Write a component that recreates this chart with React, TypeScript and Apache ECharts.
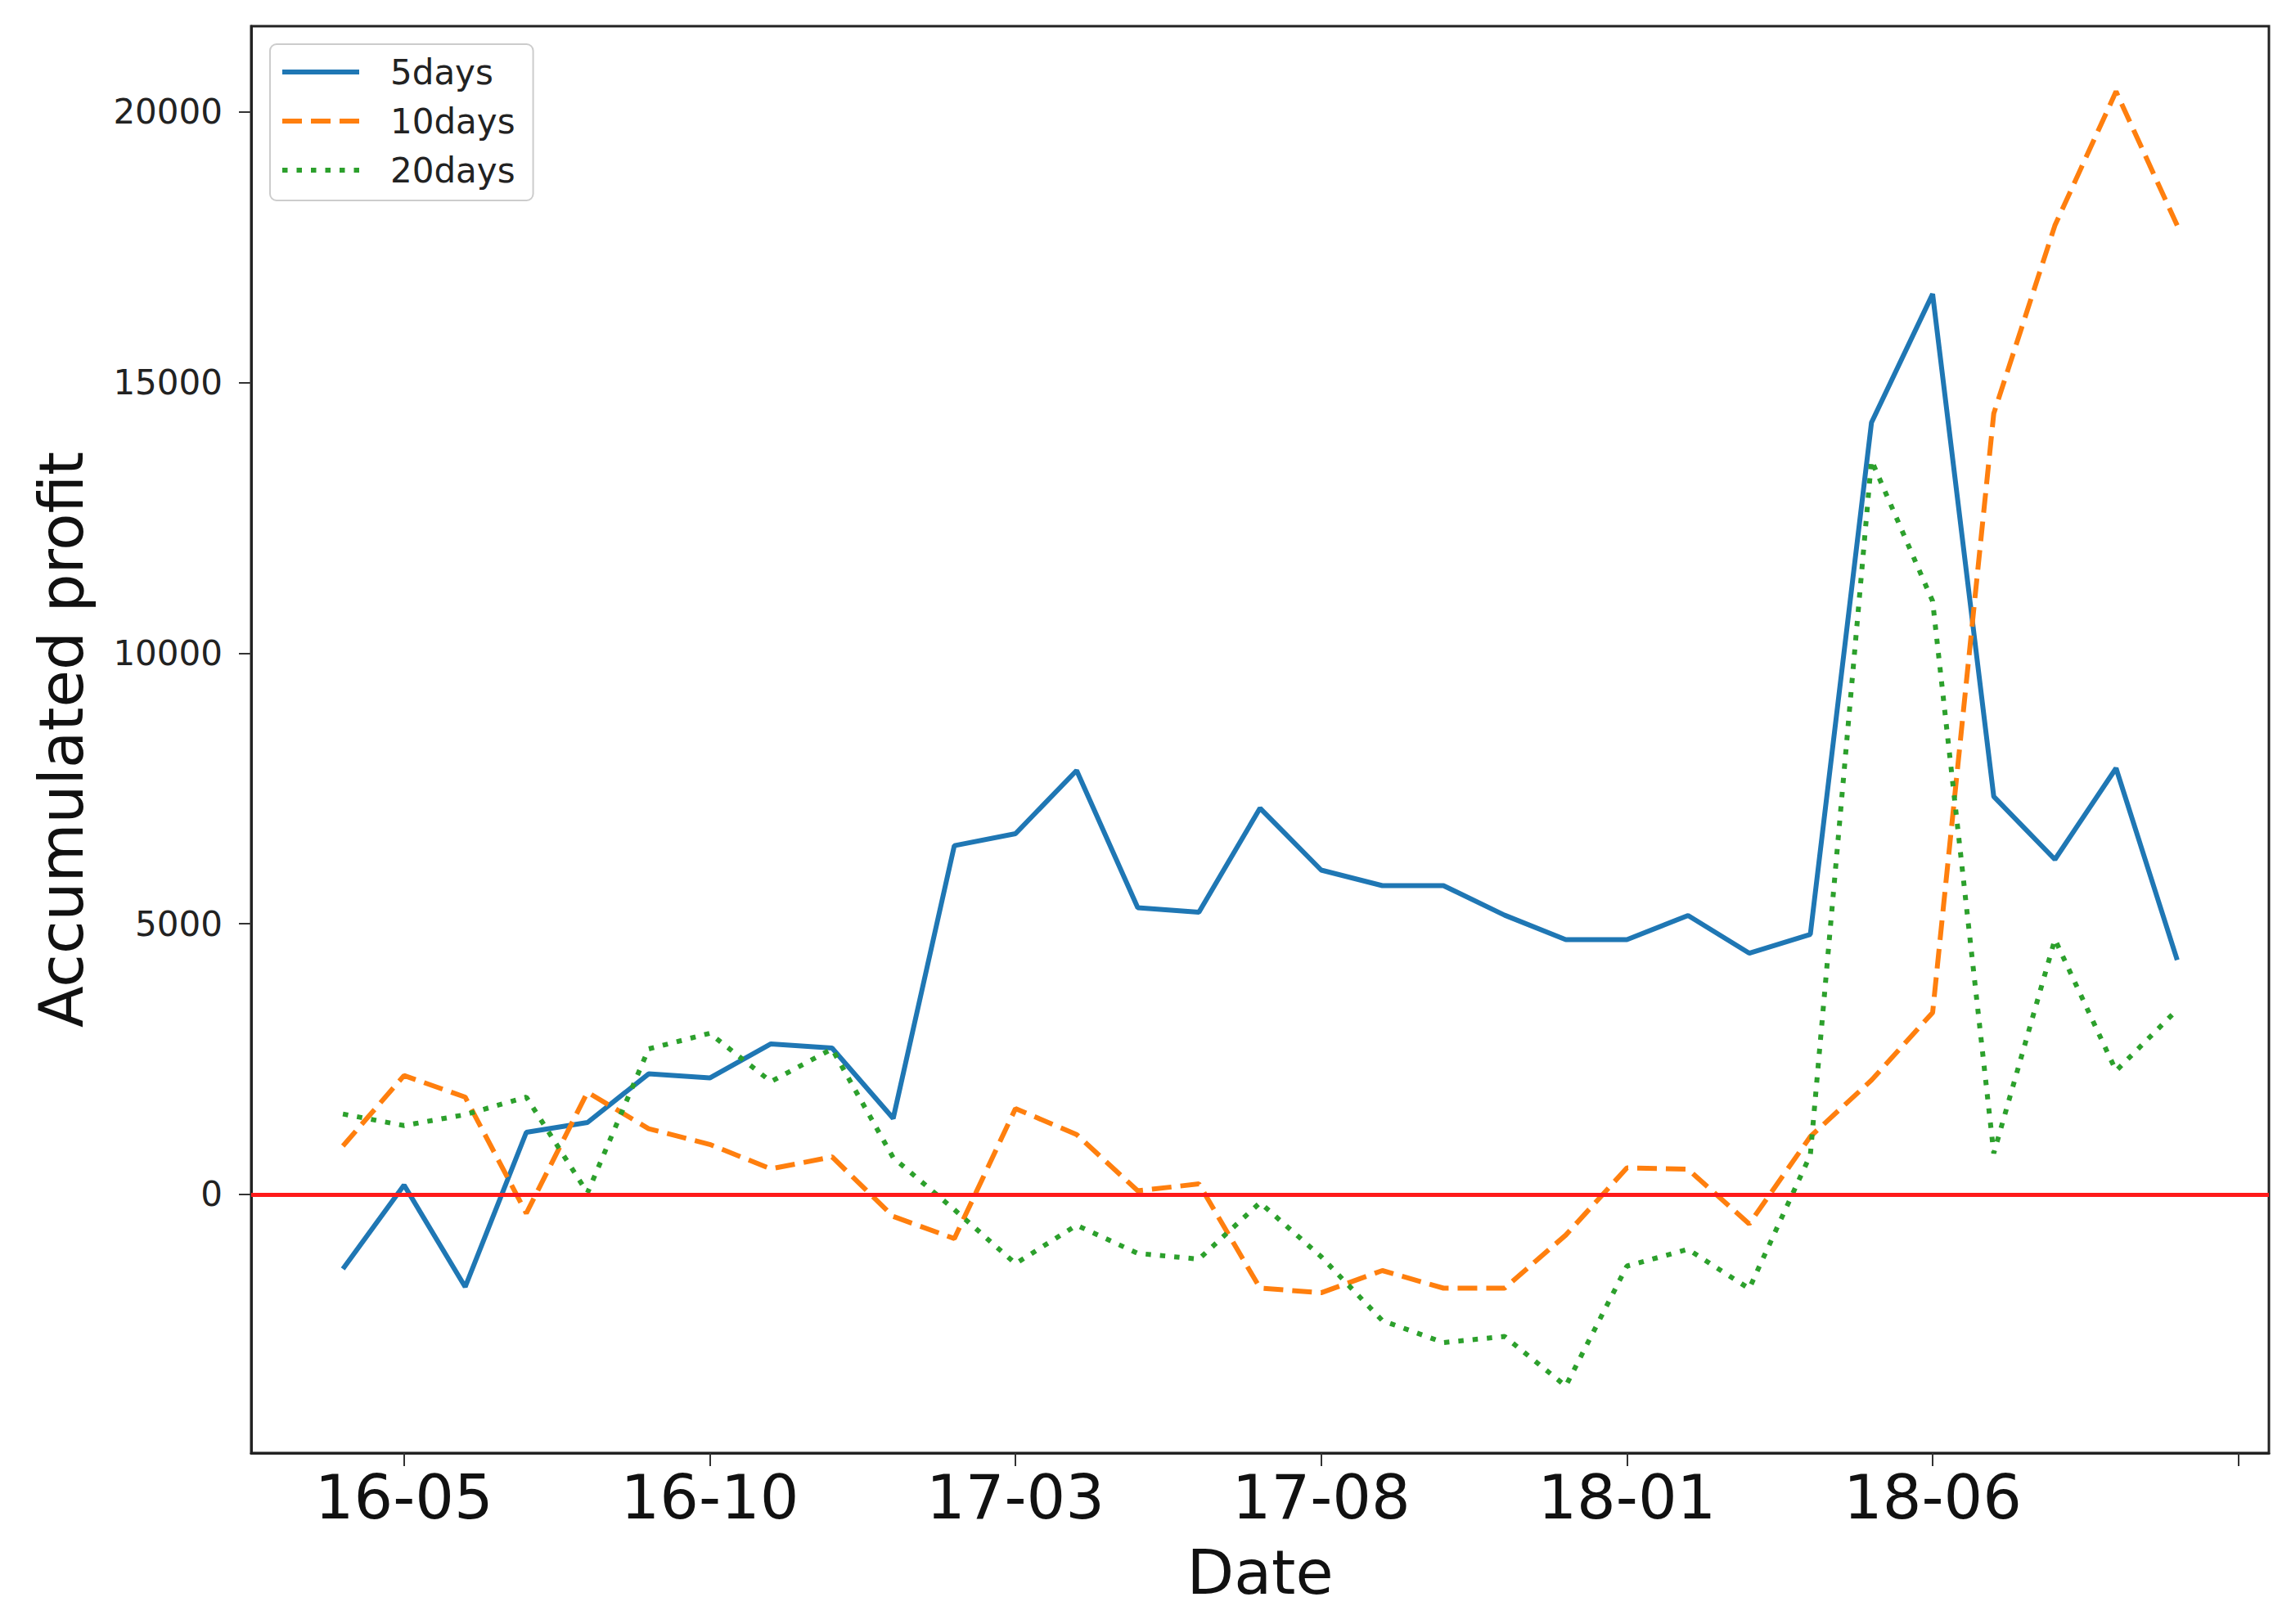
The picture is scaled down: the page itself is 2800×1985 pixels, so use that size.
import React, { useEffect, useRef } from "react";
import * as echarts from "echarts";

// Monthly observation dates (YY-MM)
const months = [
  "16-04", "16-05", "16-06", "16-07", "16-08", "16-09", "16-10", "16-11", "16-12",
  "17-01", "17-02", "17-03", "17-04", "17-05", "17-06", "17-07", "17-08", "17-09",
  "17-10", "17-11", "17-12", "18-01", "18-02", "18-03", "18-04", "18-05", "18-06",
  "18-07", "18-08", "18-09", "18-10",
];

// Tick labels on the date axis, plus one unlabeled tick at the end
const xTickLabels = ["16-05", "16-10", "17-03", "17-08", "18-01", "18-06"];
const xExtraTick = "18-11";
const yTicks = [0, 5000, 10000, 15000, 20000];

const seriesNames = ["5days", "10days", "20days"];

const profit5 = [
  -1376, 174, -1708, 1149, 1330, 2228, 2153, 2782, 2706, 1406, 6445,
  6667, 7834, 5299, 5216, 7138, 5994, 5707, 5707, 5160, 4709,
  4709, 5155, 4459, 4807, 14262, 16638, 7353, 6190, 7876, 4334,
];
const profit10 = [
  896, 2198, 1799, -348, 1890, 1215, 925, 474, 695, -405, -815,
  1587, 1108, 67, 196, -1731, -1815, -1406, -1731, -1731, -750,
  490, 466, -544, 1070, 2112, 3361, 14431, 17905, 20380, 17905,
];
const profit20 = [
  1487, 1273, 1476, 1799, 30, 2690, 2978, 2086, 2690, 680, -280,
  -1279, -567, -1088, -1194, -151, -1150, -2330, -2736, -2624, -3540,
  -1323, -1013, -1740, 730, 13566, 10963, 760, 4714, 2285, 3415,
];

const colors = ["#1f77b4", "#ff7f0e", "#2ca02c"];
const FONT = "DejaVu Sans";

const monthIndex = (m: string) => {
  const [y, mo] = m.split("-").map(Number);
  const [y0, m0] = months[0].split("-").map(Number);
  return (y - y0) * 12 + (mo - m0);
};

export default function App() {
  const ref = useRef<HTMLDivElement>(null);

  useEffect(() => {
    document.body.style.margin = "0";
    if (!ref.current) return;
    const chart = echarts.init(ref.current, undefined, { renderer: "svg" });

    const labelValues = xTickLabels.map(monthIndex);
    const tickValues = [...xTickLabels, xExtraTick].map(monthIndex);
    const toPairs = (arr: number[]) => arr.map((v, i) => [monthIndex(months[i]), v]);

    const lineTypes: any[] = ["solid", [24, 11], [6.5, 11]];
    const dataSets = [profit5, profit10, profit20];

    chart.setOption({
      animation: false,
      backgroundColor: "#ffffff",
      textStyle: { fontFamily: FONT },
      grid: {
        left: 307,
        right: 27,
        top: 32,
        bottom: 209,
        show: true,
        borderColor: "#222",
        borderWidth: 3,
        backgroundColor: "transparent",
        containLabel: false,
      },
      legend: {
        data: seriesNames.map((n, k) => ({
          name: n,
          lineStyle: { width: 6, color: colors[k], type: lineTypes[k], cap: "butt" },
        })),
        orient: "vertical",
        left: 330,
        top: 54,
        itemWidth: 94,
        itemHeight: 20,
        itemGap: 18,
        padding: [13, 22, 16, 12],
        borderColor: "#cccccc",
        borderWidth: 2,
        borderRadius: 8,
        backgroundColor: "#ffffff",
        itemStyle: { opacity: 0 },
        textStyle: {
          fontFamily: FONT,
          fontSize: 42,
          color: "#222",
          padding: [0, 0, 0, 33],
        },
      },
      xAxis: {
        type: "value",
        min: -1.5,
        max: 31.5,
        name: "Date",
        nameLocation: "middle",
        nameGap: 108,
        nameTextStyle: { fontFamily: FONT, fontSize: 75, color: "#111" },
        axisLine: { show: true, onZero: false, lineStyle: { color: "#222", width: 3 } },
        axisTick: {
          show: true,
          customValues: tickValues,
          length: 16,
          lineStyle: { color: "#333", width: 2 },
        },
        axisLabel: {
          customValues: labelValues,
          margin: 16,
          fontFamily: FONT,
          fontSize: 75,
          color: "#111",
          formatter: (v: number) => {
            const i = labelValues.indexOf(Math.round(v));
            return i >= 0 ? xTickLabels[i] : "";
          },
        },
        splitLine: { show: false },
      },
      yAxis: {
        type: "value",
        min: -4777,
        max: 21587,
        name: "Accumulated profit",
        nameLocation: "middle",
        nameGap: 195,
        nameRotate: 90,
        nameTextStyle: { fontFamily: FONT, fontSize: 74, color: "#111" },
        axisLine: { show: true, onZero: false, lineStyle: { color: "#222", width: 3 } },
        axisTick: {
          show: true,
          customValues: yTicks,
          length: 15,
          lineStyle: { color: "#333", width: 2 },
        },
        axisLabel: {
          customValues: yTicks,
          margin: 35,
          fontFamily: FONT,
          fontSize: 42,
          color: "#222",
          formatter: (v: number) => String(Math.round(v)),
        },
        splitLine: { show: false },
      },
      series: dataSets.map((arr, k) => ({
        name: seriesNames[k],
        type: "line",
        data: toPairs(arr),
        symbol: "none",
        showSymbol: false,
        color: colors[k],
        lineStyle: { color: colors[k], width: 6, type: lineTypes[k], cap: "butt" },
        z: 2 + k,
        ...(k === 2
          ? {
              markLine: {
                silent: true,
                symbol: ["none", "none"],
                label: { show: false },
                lineStyle: { color: "#ff1a1a", width: 5, type: "solid" },
                data: [{ yAxis: 0 }],
              },
            }
          : {}),
      })),
    });

    return () => chart.dispose();
  }, []);

  return <div ref={ref} style={{ width: 2800, height: 1985 }} />;
}
